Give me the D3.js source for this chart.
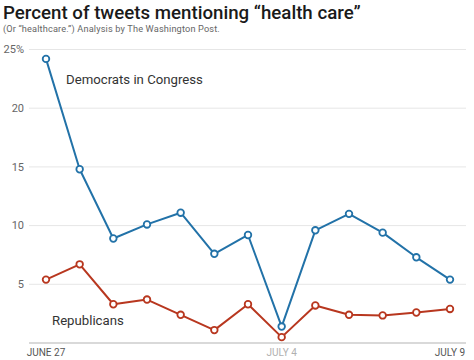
<!DOCTYPE html>
<html><head><meta charset="utf-8">
<script src="https://cdn.jsdelivr.net/npm/d3@7"></script>
<style>body{margin:0;background:#fff}svg{display:block}</style>
</head><body>
<svg id="c" width="474" height="360"></svg>
<script>
const dates = ["June 27","June 28","June 29","June 30","July 1","July 2","July 3","July 4","July 5","July 6","July 7","July 8","July 9"];
const democrats = [24.2, 14.8, 8.9, 10.1, 11.1, 7.6, 9.2, 1.4, 9.6, 11.0, 9.4, 7.3, 5.4];
const republicans = [5.4, 6.7, 3.3, 3.7, 2.4, 1.1, 3.3, 0.5, 3.2, 2.4, 2.35, 2.6, 2.9];
const yTicks = [5, 10, 15, 20, 25];
const xTickLabels = [{i:0, label:"JUNE 27"}, {i:7, label:"JULY 4"}, {i:12, label:"JULY 9"}];

const svg = d3.select("#c");
const font = "Roboto, 'Liberation Sans', sans-serif";

svg.append("text").attr("x", 3).attr("y", 19)
  .attr("font-family", font).attr("font-weight", 500).attr("font-size", 18.7).attr("fill", "#1a1a1a")
  .text("Percent of tweets mentioning \u201chealth care\u201d");
svg.append("text").attr("x", 3).attr("y", 32)
  .attr("font-family", font).attr("font-size", 9.2).attr("letter-spacing", 0.15).attr("fill", "#666")
  .text("(Or \u201chealthcare.\u201d) Analysis by The Washington Post.");

const x = d3.scalePoint().domain(d3.range(dates.length)).range([46, 450]);
const y = d3.scaleLinear().domain([0, 25]).range([343, 49.5]);

// gridlines
svg.append("g").selectAll("line").data(yTicks).join("line")
  .attr("x1", 29).attr("x2", 466)
  .attr("y1", d => y(d)).attr("y2", d => y(d))
  .attr("stroke", "#e6e6e6").attr("stroke-width", 1);
svg.append("g").selectAll("text").data(yTicks).join("text")
  .attr("x", 24).attr("y", d => y(d)).attr("dy", "0.35em")
  .attr("text-anchor", "end").attr("font-family", font).attr("font-size", 11).attr("fill", "#666")
  .text(d => d === 25 ? "25%" : d);

// baseline
svg.append("line").attr("x1", 29).attr("x2", 466).attr("y1", y(0)).attr("y2", y(0))
  .attr("stroke", "#b3b3b3").attr("stroke-width", 1);

svg.append("g").selectAll("text").data(xTickLabels).join("text")
  .attr("x", d => x(d.i)).attr("y", 356)
  .attr("text-anchor", "middle").attr("font-family", font).attr("font-size", 10)
  .attr("fill", d => d.i === 7 ? "#b0b0b0" : "#555")
  .text(d => d.label);

function series(vals, color) {
  const line = d3.line().x((d, i) => x(i)).y(d => y(d));
  svg.append("path").datum(vals).attr("d", line)
    .attr("fill", "none").attr("stroke", color).attr("stroke-width", 2).attr("stroke-linejoin", "round");
  svg.append("g").selectAll("circle").data(vals).join("circle")
    .attr("cx", (d, i) => x(i)).attr("cy", d => y(d)).attr("r", 3.3)
    .attr("fill", "#fff").attr("stroke", color).attr("stroke-width", 1.8);
}
series(republicans, "#b8371f");
series(democrats, "#2272a8");

svg.append("text").attr("x", 66).attr("y", 84)
  .attr("font-family", font).attr("font-size", 13.2).attr("fill", "#333").text("Democrats in Congress");
svg.append("text").attr("x", 52).attr("y", 325)
  .attr("font-family", font).attr("font-size", 13.2).attr("fill", "#333").text("Republicans");
</script>
</body></html>
